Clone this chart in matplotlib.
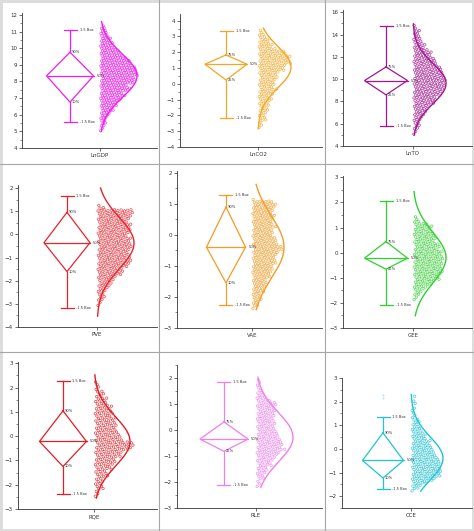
import matplotlib
matplotlib.use("Agg")
import matplotlib.pyplot as plt
import numpy as np
from matplotlib.ticker import MultipleLocator

W, H = 474, 531

# ---- data ----------------------------------------------------------------
names = ["LnGDP", "LnCO2", "LnTO", "PVE", "VAE", "GEE", "RQE", "RLE", "CCE"]
colors = ["#f01ef0", "#f5a623", "#a3168f", "#e8232d", "#f59b26",
          "#2fd12f", "#e21d24", "#f07ef0", "#22c3d6"]

upper_caps = [11.10, 3.32, 14.72, 1.64, 1.27, 2.07, 2.25, 1.83, 1.35]
box_hi = [9.76, 1.83, 11.09, 0.95, 0.89, 0.44, 1.04, 0.31, 0.68]
medians = [8.34, 1.24, 9.87, -0.36, -0.40, -0.22, -0.22, -0.35, -0.49]
box_lo = [6.76, 0.24, 8.59, -1.61, -1.55, -0.66, -1.25, -0.82, -1.23]
lower_caps = [5.54, -2.16, 5.79, -3.20, -2.27, -2.09, -2.37, -2.10, -1.69]
hi_labels = ["90%", "75%", "75%", "90%", "90%", "75%", "90%", "75%", "90%"]
lo_labels = ["10%", "25%", "25%", "10%", "10%", "25%", "10%", "25%", "10%"]

# normal curve fitted to each variable
fit_mean = [8.34, 1.05, 9.60, -0.38, -0.40, -0.20, -0.22, -0.28, -0.40]
fit_sd = [1.30, 1.30, 1.80, 1.10, 1.00, 1.00, 1.00, 0.95, 0.90]
curve_lo = [5.00, -2.84, 5.00, -3.53, -2.41, -2.51, -2.55, -2.20, -1.79]
curve_hi = [11.60, 3.53, 14.96, 2.00, 1.62, 2.43, 2.52, 2.03, 2.30]

# point clouds as counts per y-bin
bin_start = [5.0, -2.8, 5.0, -3.1, -2.4, -1.9, -2.5, -2.2, -1.8]
bin_step = [0.15, 0.15, 0.25, 0.12, 0.09, 0.10, 0.10, 0.10, 0.10]
lngdp_counts = [1, 1, 2, 2, 2, 3, 3, 4, 5, 5, 7, 6, 8, 9, 10, 9, 11, 12, 11,
                13, 14, 13, 15, 15, 14, 14, 13, 12, 12, 10, 9, 8, 7, 6, 5, 5,
                4, 4, 3, 3, 2, 2, 1]
lnco2_counts = [1, 1, 1, 2, 2, 2, 2, 3, 2, 3, 3, 3, 4, 3, 4, 4, 5, 4, 5, 4,
                5, 5, 5, 6, 7, 7, 8, 9, 9, 8, 9, 8, 7, 5, 4, 4, 3, 3, 2, 2,
                1, 1]
lnto_counts = [1, 1, 2, 2, 2, 3, 3, 4, 4, 5, 6, 7, 8, 8, 9, 10, 10, 11, 11,
               11, 11, 10, 10, 10, 9, 8, 8, 7, 6, 6, 5, 4, 4, 3, 3, 2, 2, 2,
               1, 1]
pve_counts = [1, 1, 2, 2, 2, 3, 3, 4, 4, 5, 6, 7, 8, 8, 9, 10, 10, 10, 10, 9,
              10, 10, 10, 10, 10, 9, 10, 10, 10, 10, 9, 10, 10, 11, 11, 2, 1]
vae_counts = [1, 2, 2, 3, 3, 3, 4, 4, 4, 5, 5, 6, 6, 7, 7, 7, 8, 8, 8, 8, 9,
              10, 10, 9, 8, 8, 7, 7, 7, 8, 7, 7, 7, 8, 7, 7, 8, 8, 7, 1]
gee_counts = [1, 1, 2, 2, 3, 4, 5, 6, 7, 7, 8, 8, 8, 8, 8, 8, 8, 8, 8, 8, 7,
              7, 7, 6, 6, 6, 6, 5, 5, 5, 4, 2, 1, 1]
rqe_counts = [1, 1, 1, 2, 2, 2, 2, 2, 3, 3, 3, 4, 4, 5, 5, 5, 6, 6, 7, 8, 9,
              9, 9, 7, 6, 6, 6, 5, 5, 5, 5, 5, 5, 4, 5, 4, 4, 4, 3, 3, 3, 2,
              2, 2, 1, 1, 1, 1]
rle_counts = [1, 1, 1, 2, 2, 3, 3, 3, 4, 4, 5, 5, 6, 7, 8, 7, 7, 7, 7, 6, 6,
              5, 5, 5, 5, 5, 5, 5, 5, 5, 5, 6, 5, 4, 3, 2, 2, 1, 1, 1, 1, 1]
cce_counts = [1, 2, 3, 4, 6, 7, 8, 8, 8, 8, 8, 8, 8, 8, 7, 7, 6, 6, 6, 5, 5,
              5, 4, 4, 4, 3, 3, 2, 2, 2, 2, 1, 1, 1, 1, 1, 0, 1, 1, 0, 1]
all_counts = [lngdp_counts, lnco2_counts, lnto_counts, pve_counts, vae_counts,
              gee_counts, rqe_counts, rle_counts, cce_counts]
cce_outliers = [2.15, 2.30]

y_limits = [(4, 12.12), (-4, 4.42), (4, 16.2), (-4, 2.13), (-3, 2.05),
            (-3, 3.05), (-3, 3.05), (-3, 2.5), (-2.5, 3.0)]
y_major = [1, 1, 2, 1, 1, 1, 1, 1, 1]

# ---- layout in pixels -----------------------------------------------------
# (left spine, right end, top, bottom, box centre, category tick)
axes_px = [(22, 157, 13, 148, 70, 100), (180, 322, 14, 147, 226, 258),
           (343, 472, 10, 146, 386, 413), (18, 157, 185, 327, 67, 97),
           (177, 322, 171, 328, 226, 252), (343, 472, 176, 328, 386, 413),
           (18, 157, 362, 509, 63, 94), (177, 322, 365, 508, 224, 256),
           (342, 472, 378, 508, 383, 411)]
diamond_px = [23.5, 21, 21.5, 23, 19.5, 21.5, 23.5, 24, 20.5]
curve_px = [37, 33, 33, 37, 32, 33, 36, 37, 32]
dot_px = [2.5, 3.6, 2.9, 3.3, 2.9, 3.6, 4.2, 3.6, 3.6]
cap_px = 6.5

fig = plt.figure(figsize=(W / 100, H / 100), dpi=100)
fig.patch.set_facecolor("white")

# cell frame
frame = fig.add_axes([0, 0, 1, 1])
frame.set_xlim(0, W)
frame.set_ylim(H, 0)
frame.axis("off")
frame.add_patch(plt.Rectangle((0, 0), W, H, facecolor="none",
                              edgecolor="#dcdcdc", lw=3.5))
for x in (159, 325):
    frame.plot([x, x], [0, H], color="#a6a6a6", lw=0.8)
for y in (164, 352):
    frame.plot([0, W], [y, y], color="#a6a6a6", lw=0.8)

for i, name in enumerate(names):
    L, R, T, B, bx, tx = axes_px[i]
    ax = fig.add_axes([L / W, 1 - B / H, (R - L) / W, (B - T) / H])
    ax.patch.set_alpha(0)
    s = float(tx - bx)  # pixels per x unit (box at 0, category at 1)
    ax.set_xlim((L - bx) / s, (R - bx) / s)
    ax.set_ylim(*y_limits[i])
    c = colors[i]
    hw = diamond_px[i] / s
    cw = cap_px / s

    # diamond box
    ax.plot([0, hw, 0, -hw, 0],
            [box_hi[i], medians[i], box_lo[i], medians[i], box_hi[i]],
            color=c, lw=0.9, solid_joinstyle="miter")
    ax.plot([-hw, hw], [medians[i], medians[i]], color=c, lw=0.9)
    # whiskers and caps
    ax.plot([0, 0], [box_hi[i], upper_caps[i]], color=c, lw=0.9)
    ax.plot([0, 0], [box_lo[i], lower_caps[i]], color=c, lw=0.9)
    ax.plot([-cw, cw], [upper_caps[i]] * 2, color=c, lw=0.9)
    ax.plot([-cw, cw], [lower_caps[i]] * 2, color=c, lw=0.9)

    lab = dict(fontsize=2.6, color="#333333", va="center", ha="left")
    ax.text(cw + 3 / s, upper_caps[i], "1.5 Box", **lab)
    ax.text(cw + 3 / s, lower_caps[i], "-1.5 Box", **lab)
    ax.text(2 / s, box_hi[i], hi_labels[i], **lab)
    ax.text(2 / s, box_lo[i], lo_labels[i], **lab)
    ax.text(hw + 3 / s, medians[i], "50%", **lab)

    # point cloud, rows staggered so the dots do not sit on a lattice
    dx = dot_px[i] / s
    px, py = [], []
    for j, n in enumerate(all_counts[i]):
        yv = bin_start[i] + (j + 0.5) * bin_step[i]
        shift = (j * 0.618) % 1.0
        for k in range(n):
            px.append(1 + (k + 0.3 + shift) * dx)
            py.append(yv + ((k * 0.382) % 1.0 - 0.5) * 0.5 * bin_step[i])
    ax.scatter(px, py, s=3.0, facecolors="none", edgecolors=c,
               linewidths=0.45, alpha=0.9, zorder=2)
    if name == "CCE":
        ax.scatter([0] * len(cce_outliers), cce_outliers, s=2.0, color=c,
                   linewidths=0, alpha=0.4)

    # fitted normal curve
    yy = np.linspace(curve_lo[i], curve_hi[i], 200)
    amp = curve_px[i] / s
    xx = 1 + amp * np.exp(-0.5 * ((yy - fit_mean[i]) / fit_sd[i]) ** 2)
    ax.plot(xx, yy, color=c, lw=1.0, zorder=3)

    # axes styling
    for side in ("top", "right"):
        ax.spines[side].set_visible(False)
    for side in ("left", "bottom"):
        ax.spines[side].set_linewidth(0.6)
        ax.spines[side].set_color("#333333")
    ax.set_xticks([1])
    ax.set_xticklabels([name])
    ax.yaxis.set_major_locator(MultipleLocator(y_major[i]))
    ax.yaxis.set_minor_locator(MultipleLocator(y_major[i] / 2))
    ax.tick_params(axis="both", which="major", length=2.2, width=0.5,
                   labelsize=4, pad=1.5, colors="#333333")
    ax.tick_params(axis="y", which="minor", length=1.2, width=0.4,
                   colors="#333333")

fig.savefig("out.png", dpi=100, facecolor="white")
